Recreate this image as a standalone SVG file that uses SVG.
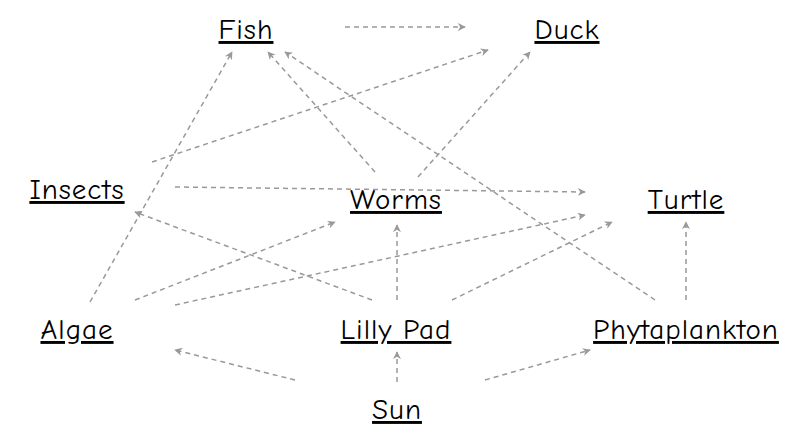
<svg xmlns="http://www.w3.org/2000/svg" width="800" height="436" viewBox="0 0 800 436">
<style>
text{font-family:"Comic Neue","DejaVu Sans","Liberation Sans",sans-serif;font-size:29px;letter-spacing:1px;fill:#000;text-anchor:middle;text-decoration:underline}
.c line{stroke:#999;stroke-width:1.5;stroke-dasharray:5,4;marker-end:url(#a)}
</style>
<defs><marker id="a" viewBox="0 0 10 10" refX="9" refY="5" markerWidth="8" markerHeight="8" orient="auto" markerUnits="userSpaceOnUse"><path d="M0,0 L10,5 L0,10 L3,5 z" fill="#999"/></marker></defs>
<rect width="800" height="436" fill="#fff"/>
<g class="c">
<line x1="345" y1="27" x2="465" y2="27"/>
<line x1="90" y1="302" x2="232" y2="52"/>
<line x1="152" y1="162" x2="488" y2="50"/>
<line x1="375" y1="172" x2="268" y2="52"/>
<line x1="418" y1="177" x2="530" y2="52"/>
<line x1="655" y1="300" x2="285" y2="52"/>
<line x1="175" y1="187" x2="585" y2="192"/>
<line x1="135" y1="300" x2="335" y2="222"/>
<line x1="175" y1="305" x2="585" y2="215"/>
<line x1="372" y1="300" x2="135" y2="212"/>
<line x1="397" y1="300" x2="397" y2="225"/>
<line x1="452" y1="300" x2="612" y2="222"/>
<line x1="686" y1="300" x2="686" y2="222"/>
<line x1="295" y1="380" x2="175" y2="350"/>
<line x1="397" y1="382" x2="397" y2="352"/>
<line x1="485" y1="380" x2="590" y2="350"/>
</g>
<g id="fish"><text x="246" y="39">Fish</text></g>
<g id="duck"><text x="567" y="39">Duck</text></g>
<g id="insects"><text x="77" y="199">Insects</text></g>
<g id="worms"><text x="396" y="209">Worms</text></g>
<g id="turtle"><text x="686" y="209">Turtle</text></g>
<g id="algae"><text x="77" y="339">Algae</text></g>
<g id="lillypad"><text x="396" y="339">Lilly Pad</text></g>
<g id="phytaplankton"><text x="686" y="339">Phytaplankton</text></g>
<g id="sun"><text x="397" y="419">Sun</text></g>
</svg>
